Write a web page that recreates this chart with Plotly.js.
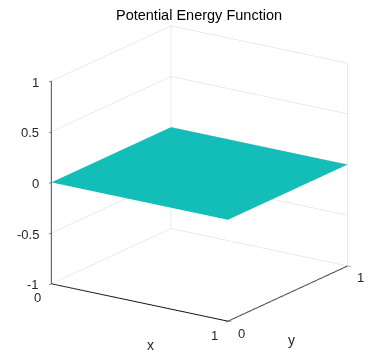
<!DOCTYPE html>
<html><head><meta charset="utf-8">
<script src="https://cdn.plot.ly/plotly-3.0.1.min.js"></script>
<style>html,body{margin:0;padding:0;background:#fff;}#plot{width:384px;height:360px;}</style>
</head><body><div id="plot"></div>
<script>
const xValues = [0, 1];
const yValues = [0, 1];
const zValues = [[0, 0], [0, 0]];
const zTicks = [-1, -0.5, 0, 0.5, 1];
const zTickText = ['-1', '-0.5', '0', '0.5', '1'];
const xyTicks = [0, 1];
const xyTickText = ['0', '1'];
const surfColor = 'rgb(20,190,184)';

const k = 1.8;
const dir = [0.533, -0.787, 0.313];
const ar = 1.23;
const fontFam = 'Liberation Sans, Arial, sans-serif';
const tickFont = {family: fontFam, size: 13, color: 'rgb(38,38,38)'};
const labelFont = {family: fontFam, size: 14, color: 'rgb(38,38,38)'};

const axisBase = {
  showbackground: false,
  gridcolor: 'rgb(215,215,215)',
  gridwidth: 1,
  showline: true,
  linecolor: 'rgb(20,20,20)',
  linewidth: 2,
  zeroline: false,
  showspikes: false,
  ticks: 'outside',
  ticklen: 4,
  showticklabels: false,
  tickcolor: 'rgb(20,20,20)',
  title: {text: ''}
};

const data = [{
  type: 'surface',
  x: xValues, y: yValues, z: zValues,
  colorscale: [[0, surfColor], [1, surfColor]],
  showscale: false,
  lighting: {ambient: 1, diffuse: 0, specular: 0, roughness: 1, fresnel: 0},
  hoverinfo: 'skip'
}];

const xMin = xValues[0], xMax = xValues[xValues.length - 1];
const yMin = yValues[0], yMax = yValues[yValues.length - 1];
const zMin = zTicks[0];

const sceneAnn = [];
zTicks.forEach((z, i) => sceneAnn.push({x: xMin, y: yMin, z: z, text: zTickText[i], showarrow: false,
  xanchor: 'right', yanchor: 'middle', xshift: -10, yshift: -1, font: tickFont}));
xyTicks.forEach((v, i) => sceneAnn.push({x: v, y: yMin, z: zMin, text: xyTickText[i], showarrow: false,
  xanchor: 'center', yanchor: 'middle', xshift: -14, yshift: -14, font: tickFont}));
xyTicks.forEach((v, i) => sceneAnn.push({x: xMax, y: v, z: zMin, text: xyTickText[i], showarrow: false,
  xanchor: 'center', yanchor: 'middle', xshift: 13, yshift: -12, font: tickFont}));
sceneAnn.push({x: (xMin + xMax) / 2, y: yMin, z: zMin, text: 'x', showarrow: false,
  xanchor: 'center', yanchor: 'middle', xshift: 11, yshift: -42, font: labelFont});
sceneAnn.push({x: xMax, y: (yMin + yMax) / 2, z: zMin, text: 'y', showarrow: false,
  xanchor: 'center', yanchor: 'middle', xshift: 4, yshift: -46, font: labelFont});

const layout = {
  width: 384, height: 360,
  paper_bgcolor: '#fff',
  margin: {l: 0, r: 0, t: 0, b: 0},
  title: {text: 'Potential Energy Function', x: 199 / 384, xanchor: 'center', y: 0.958, yanchor: 'middle',
          font: {family: fontFam, size: 14.5, color: 'rgb(0,0,0)'}},
  showlegend: false,
  scene: {
    domain: {x: [0.039, 1], y: [0.036, 1]},
    aspectmode: 'manual',
    aspectratio: {x: ar, y: ar, z: ar},
    camera: {
      projection: {type: 'orthographic'},
      up: {x: 0, y: 0, z: 1},
      center: {x: 0, y: 0, z: 0},
      eye: {x: k * dir[0], y: k * dir[1], z: k * dir[2]}
    },
    xaxis: Object.assign({}, axisBase, {range: [0, 1], tickvals: xyTicks}),
    yaxis: Object.assign({}, axisBase, {range: [0, 1], tickvals: xyTicks}),
    zaxis: Object.assign({}, axisBase, {range: [-1, 1], tickvals: zTicks}),
    annotations: sceneAnn
  }
};

Plotly.newPlot('plot', data, layout, {displayModeBar: false}).catch(e => { document.body.insertAdjacentHTML('beforeend', '<p>' + e + '</p>'); });
</script></body></html>
